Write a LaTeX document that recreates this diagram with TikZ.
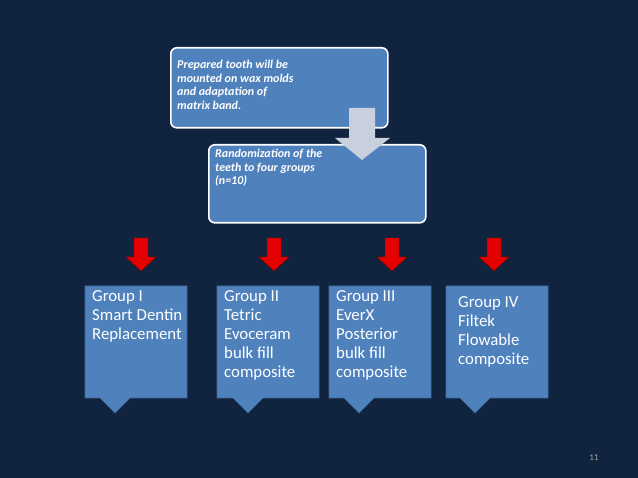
\documentclass[tikz,border=0pt]{standalone}
\usepackage{fontspec}
\setmainfont{Carlito}
\definecolor{bg}{HTML}{10243F}
\definecolor{bx}{HTML}{4F81BD}
\definecolor{bxd}{HTML}{3E6A9E}
\definecolor{gr}{HTML}{C8D0DD}
\begin{document}
\begin{tikzpicture}[x=1pt,y=-1pt,
 top/.style={draw=white,line width=1.6pt,fill=bx,rounded corners=6pt},
 ttxt/.style={text=white,font=\fontsize{12}{13.5}\selectfont\bfseries\itshape,align=left,anchor=north west,inner sep=0pt},
 grp/.style={fill=bx,draw=bxd,line width=0.6pt},
 gtxt/.style={text=white,font=\fontsize{16.8}{19}\selectfont,align=left,anchor=north west,inner sep=0pt},
 red/.style={fill=red!90!black,draw=red!50!black,line width=0.4pt}]
\fill[bg] (0,0) rectangle (638,478);
\useasboundingbox (0,0) rectangle (638,478);
\node[top,minimum width=217pt,minimum height=80pt,anchor=north west] (b1) at (170,47) {};
\node[ttxt] (t1) at (177,60) {Prepared tooth will be\\mounted on wax molds\\and adaptation of\\matrix band.};
\node[top,minimum width=217pt,minimum height=78pt,anchor=north west] (b2) at (208,144) {};
\node[ttxt] (t2) at (215,149) {Randomization of the\\teeth to four groups\\(n=10)};
\fill[gr] (349,108) -- (375,108) -- (375,138) -- (390,138) -- (362,160) -- (335,138) -- (349,138) -- cycle;
\foreach \c in {141,274,392,494}{
 \draw[red] (\c-7,238) -- (\c+7,238) -- (\c+7,257) -- (\c+15,257) -- (\c,271) -- (\c-15,257) -- (\c-7,257) -- cycle;}
\foreach \l/\r/\t/\n in {85/187/115/g1,217/319/248/g2,329/431/359/g3,446/548/475/g4}{
 \draw[grp] (\l,286) -- (\r,286) -- (\r,398) -- (\t+15,398) -- (\t,413) -- (\t-15,398) -- (\l,398) -- cycle;}
\node[gtxt] (x1) at (92,290) {Group I\\Smart Dentin\\Replacement};
\node[gtxt] (x2) at (224,290) {Group II\\Tetric\\Evoceram\\bulk fill\\composite};
\node[gtxt] (x3) at (336,290) {Group III\\EverX\\Posterior\\bulk fill\\composite};
\node[gtxt] (x4) at (458,296) {Group IV\\Filtek\\Flowable\\composite};
\node[text=gray!70,font=\fontsize{9}{10}\selectfont] (pn) at (594,458) {11};
\end{tikzpicture}
\end{document}
